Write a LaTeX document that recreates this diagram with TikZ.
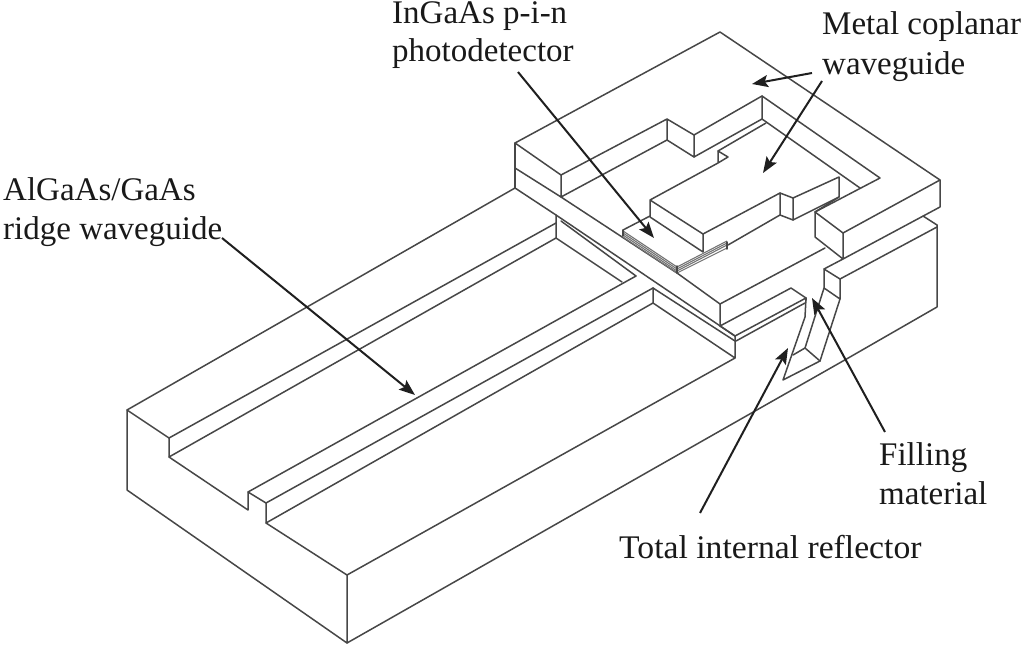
\documentclass[tikz,border=0pt]{standalone}
\usepackage{fontspec}
\setmainfont{Liberation Serif}
\usetikzlibrary{arrows.meta}
\tikzset{
  edge/.style={draw=black!72,line width=1.5pt,line join=round,line cap=round},
  layer/.style={draw=black!55,line width=1.1pt},
  pointer/.style={draw=black!88,line width=2pt,-{Stealth[length=16pt,width=12pt,inset=3pt]}},
  lab/.style={anchor=base west,inner sep=0pt,text=black!90,font=\fontsize{33}{33}\selectfont}
}
\begin{document}
\begin{tikzpicture}[x=1pt,y=-1pt]
\useasboundingbox (0,0) rectangle (1024,647);
% substrate and ridge
\draw[edge] (515,188) -- (127,410) -- (127,490) -- (347,643) -- (347,575);
\draw[edge] (127,410) -- (169,438) -- (169,457) -- (248,510) -- (248,492) -- (266,503) -- (266,523) -- (347,575) -- (735,358);
\draw[edge] (347,643) -- (850,357) -- (937,307) -- (937,225);
\draw[edge] (169,438) -- (556,223);
\draw[edge] (169,457) -- (556,238);
\draw[edge] (248,492) -- (636,276);
\draw[edge] (266,503) -- (653,288);
\draw[edge] (266,523) -- (653,303);
\draw[edge] (556,215) -- (556,238) -- (622,282);
\draw[edge] (653,288) -- (653,303) -- (735,358) -- (735,336);
% bridge strip
\draw[edge] (515,188) -- (556,215) -- (735,336);
\draw[edge] (561,221) -- (636,276);
\draw[edge] (653,288) -- (735,341);
\draw[edge] (561,197) -- (677,273) -- (720,304) -- (720,326) -- (735,336);
\draw[edge] (720,304) -- (825,248);
\draw[edge] (720,326) -- (791,288) -- (806,298) -- (806,300);
\draw[edge] (735,336) -- (806,298);
\draw[edge] (736,341) -- (805,303);
% reflector
\draw[edge] (806,298) -- (805,317) -- (783,380) -- (820,361) -- (840,299);
\draw[edge] (793,355) -- (805,348) -- (820,361);
\draw[edge] (805,348) -- (824,288) -- (840,299) -- (840,279) -- (824,269) -- (824,288);
\draw[edge] (824,269) -- (843,259);
\draw[edge] (840,279) -- (937,227);
\draw[edge] (923,216) -- (937,225);
% metal top layer
\draw[edge] (515,143) -- (515,188);
\draw[edge] (515,168) -- (561,197) -- (561,175) -- (515,143) -- (720,32) -- (940,180) -- (940,207) -- (843,259) -- (843,233) -- (815,212) -- (815,237) -- (843,259);
\draw[edge] (561,175) -- (667,119) -- (694,135) -- (694,157) -- (667,140) -- (667,119);
\draw[edge] (561,197) -- (667,140);
\draw[edge] (694,135) -- (762,96) -- (880,178) -- (815,212);
\draw[edge] (694,157) -- (762,119) -- (762,96);
\draw[edge] (843,233) -- (940,180);
\draw[edge] (762,119) -- (860,188);
\draw[edge] (718,151) -- (766,123);
% signal line block
\draw[edge] (718,163) -- (718,151) -- (728,157) -- (718,163) -- (650,200) -- (650,217) -- (703,252) -- (703,234) -- (650,200);
\draw[edge] (703,234) -- (780,193) -- (780,215) -- (728,245);
\draw[edge] (780,193) -- (793,198) -- (793,220) -- (780,215);
\draw[edge] (793,198) -- (839,177) -- (839,197) -- (793,220);
\draw[edge] (839,197) -- (815,212);
% photodetector layers
\draw[edge] (650,216) -- (623,230);
\draw[layer] (623,231) -- (677,267) -- (727,241);
\draw[layer] (623,233) -- (677,269) -- (727,243);
\draw[layer] (623,235) -- (677,271) -- (727,245);
\draw[layer] (623,237) -- (677,273) -- (727,248);
\draw[edge] (623,230) -- (623,236);
\draw[edge] (677,266) -- (677,273);
\draw[edge] (727,242) -- (727,249);
% labels
\node[lab] (det1) at (392,24) {InGaAs p-i-n};
\node[lab] (det2) at (392,62) {photodetector};
\node[lab] (cpw1) at (822,35) {Metal coplanar};
\node[lab] (cpw2) at (822,75) {waveguide};
\node[lab] (rid1) at (3,200) {AlGaAs/GaAs};
\node[lab] (rid2) at (3,239) {ridge waveguide};
\node[lab] (fil1) at (879,465) {Filling};
\node[lab] (fil2) at (879,504) {material};
\node[lab] (tir) at (619,558) {\scalebox{1.02}[1]{Total internal reflector}};
% pointers
\coordinate (a1s) at (518,72); \coordinate (a1e) at (654,238);
\coordinate (a2s) at (812,73); \coordinate (a2e) at (752,84);
\coordinate (a3s) at (822,81); \coordinate (a3e) at (763,173);
\coordinate (a4s) at (222,238); \coordinate (a4e) at (415,395);
\coordinate (a5s) at (885,432); \coordinate (a5e) at (812,298);
\coordinate (a6s) at (700,513); \coordinate (a6e) at (788,348);
\foreach \s/\e in {a1s/a1e,a2s/a2e,a3s/a3e,a4s/a4e,a5s/a5e,a6s/a6e}
  \draw[pointer] (\s) -- (\e);
\end{tikzpicture}
\end{document}
